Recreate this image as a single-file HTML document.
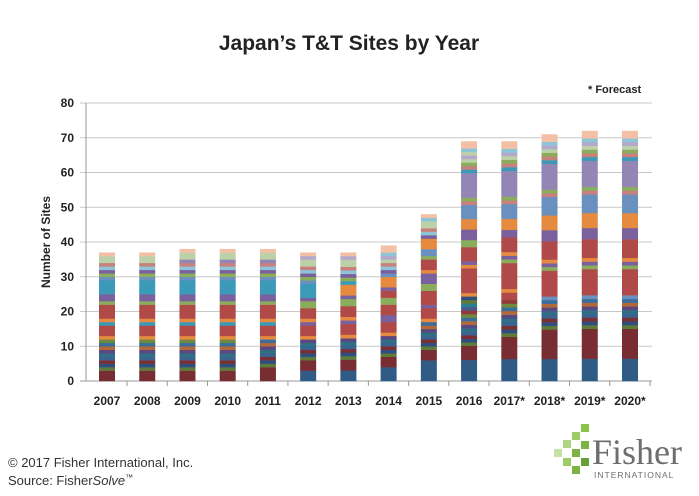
<!DOCTYPE html><html><head><meta charset="utf-8"><style>
body{margin:0;background:#fff;width:699px;height:491px;overflow:hidden;font-family:"Liberation Sans",sans-serif}
</style></head><body>
<svg id="s" width="699" height="491" xmlns="http://www.w3.org/2000/svg" font-family="Liberation Sans, sans-serif">
<text x="349" y="50" text-anchor="middle" font-size="21" font-weight="bold" fill="#222">Japan’s T&amp;T Sites by Year</text>
<text x="588" y="93" font-size="11" font-weight="bold" fill="#222">* Forecast</text>
<text transform="translate(50,242) rotate(-90)" text-anchor="middle" font-size="12" font-weight="bold" fill="#222">Number of Sites</text>
<g id="g"></g>
<text x="8" y="467" font-size="13" fill="#333">© 2017 Fisher International, Inc.</text>
<text x="8" y="485" font-size="13" fill="#333">Source: Fisher<tspan font-style="italic">Solve</tspan><tspan font-size="8" dy="-5">™</tspan></text>
<g fill="#7cb342">
<rect x="563" y="440" width="8" height="8" fill="#aed581"/><rect x="572" y="432" width="8" height="8" fill="#9ccc65"/><rect x="572" y="449" width="8" height="8"/><rect x="581" y="424" width="8" height="8" fill="#8bc34a"/><rect x="581" y="441" width="8" height="8"/><rect x="581" y="458" width="8" height="8" fill="#689f38"/><rect x="554" y="449" width="8" height="8" fill="#c5e1a5"/><rect x="563" y="458" width="8" height="8" fill="#9ccc65"/><rect x="572" y="466" width="8" height="8" fill="#7cb342"/>
</g>
<text x="592" y="464" font-family="Liberation Serif, serif" font-size="36" fill="#6d6e70">Fisher</text>
<text x="594" y="478" font-size="8.5" fill="#6d6e70" letter-spacing="1">INTERNATIONAL</text>
</svg>
<script>
const g=document.getElementById('g');let h='';
const y0=381,u=3.475;
for(let i=0;i<=8;i++){const y=y0-i*10*u;h+=`<line x1="80" x2="652" y1="${y}" y2="${y}" stroke="${i?'#c8c8c8':'#999'}" stroke-width="1"/>`;h+=`<text x="74" y="${y+4}" text-anchor="end" font-size="12" font-weight="bold" fill="#222">${i*10}</text>`;}
h+=`<line x1="86" x2="86" y1="103" y2="381" stroke="#999"/>`;
const DB="#2f5b85",DR="#772d31",R="#b04a48",O="#e58a3f",T="#3a9ab8",P="#7a619e",G="#8aad5c",B="#6a90c0",LP="#9486b4",PK="#c8807c",LG="#bdd1a8",LB="#8ec4d8",PE="#f4c0a5",LAV="#b4a8cc";
const cyc=["#5f7b3a","#2f4f7f","#7a2f33","#3a6390","#2f6f85","#5c4880","#b2693a","#3b6d9b","#6d8a3f","#923a3a","#4a5a8a","#2b7f8f"];
const D=n=>Array.from({length:n},(_,i)=>[1,cyc[i%cyc.length]]);
const a07=[[3,DR],...D(9),[1,O],[3,R],[1,T],[1,O],[4,R],[1,G],[2,P],[4,T],[1,B],[1,G],[1,P],[1,LB],[1,PK],[2,LG],[1,PE]];
const a09=[[3,DR],...D(9),[1,O],[3,R],[1,T],[1,O],[4,R],[1,G],[2,P],[4,T],[1,B],[1,G],[1,P],[1,LB],[1,PK],[1,LP],[2,LG],[1,PE]];
const a11=[[4,DR],...D(8),[1,O],[3,R],[1,T],[1,O],[4,R],[1,G],[2,P],[4,T],[1,B],[1,G],[1,P],[1,LB],[1,PK],[1,LP],[2,LG],[1,PE]];
const a12=[[3,DB],[3,DR],...D(6),[1,O],[3,R],[1,P],[1,O],[3,R],[2,G],[1,P],[4,T],[1,B],[1,G],[1,P],[1,LB],[1,PK],[2,LG],[1,LAV],[1,PE]];
const a13=[[3,DB],[3,DR],...D(6),[1,O],[3,R],[1,P],[1,O],[3,R],[2,G],[1,P],[3,O],[1,T],[1,G],[1,P],[1,LB],[1,PK],[2,LG],[1,LAV],[1,PE]];
const a14=[[4,DB],[3,DR],...D(6),[1,O],[3,R],[2,P],[3,R],[1,G],[1,G],[2,R],[1,P],[3,O],[1,B],[1,P],[1,LB],[1,PK],[1,LG],[1,LAV],[1,LB],[2,PE]];
const a15=[[6,DB],[3,DR],...D(8),[1,O],[3,R],[1,P],[4,R],[2,G],[3,P],[1,O],[3,R],[1,G],[2,B],[3,O],[1,P],[1,LB],[1,PK],[2,LG],[1,LB],[1,PE]];
const a16=[[6,DB],[4,DR],...D(14),[1,O],[7,R],[1,O],[1,P],[4,R],[2,G],[3,P],[3,O],[4,B],[1,PK],[1,G],[7,LP],[1,T],[1,PK],[1,G],[1,LG],[1,LAV],[1,LG],[1,LB],[2,PE]];
const a17=[[6,DB],[6,DR],...D(10),[2,R],[1,O],[7,R],[1,G],[1,P],[1,O],[4,R],[2,P],[3,O],[4,B],[1,PK],[1,G],[7,LP],[1,T],[1,PK],[1,G],[1,LG],[1,LAV],[1,LB],[2,PE]];
const a18=[[6,DB],[8,DR],...D(8),[1,B],[7,R],[1,G],[1,P],[1,O],[5,R],[3,P],[4,O],[5,B],[1,PK],[1,G],[7,LP],[1,T],[1,PK],[1,G],[1,LG],[1,LAV],[1,LB],[2,PE]];
const bars=[[a07,37,"2007"],[a07,37,"2008"],[a09,38,"2009"],[a09,38,"2010"],[a11,38,"2011"],[a12,37,"2012"],[a13,37,"2013"],[a14,39,"2014"],[a15,48,"2015"],[a16,69,"2016"],[a17,69,"2017*"],[a18,71,"2018*"],[a18,72,"2019*"],[a18,72,"2020*"]];
bars.forEach((b,i)=>{const cx=107+i*40.23;const tot=b[0].reduce((s,x)=>s+x[0],0);const k=b[1]/tot;let v=0;
b[0].forEach(([n,c])=>{const yt=y0-(v+n*k)*u,yb=y0-v*u;h+=`<rect x="${cx-8}" y="${yt}" width="16" height="${yb-yt+0.3}" fill="${c}"/>`;v+=n*k;});
h+=`<text x="${cx}" y="405" text-anchor="middle" font-size="12" font-weight="bold" fill="#222">${b[2]}</text>`;
h+=`<line x1="${cx+20}" x2="${cx+20}" y1="381" y2="386" stroke="#999"/>`;});
g.innerHTML=h;
</script>
</body></html>
